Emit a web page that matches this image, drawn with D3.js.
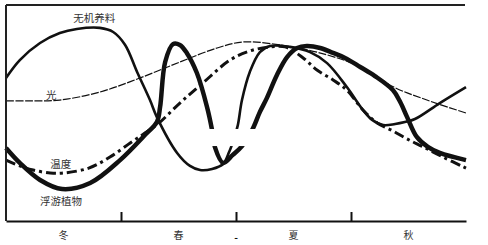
<!DOCTYPE html>
<html lang="zh">
<head>
  <meta charset="utf-8">
  <title>季节变化</title>
  <script src="https://d3js.org/d3.v7.min.js"></script>
  <style>
    body { margin: 0; background: #fff; }
    .axis path, .axis line { stroke: #111; stroke-width: 2; }
    text { font-family: "Noto Sans CJK SC", sans-serif; fill: #333; }
  </style>
</head>
<body>
<script>

// x: share of the year in percent (0 = start of winter), y: relative level in percent
var seasons = ["冬", "春", "夏", "秋"];
var seasonBounds = [25, 50, 75];

var nutrientPts = [[0,66.2],[3.0,74.5],[7.4,82.4],[11.7,87.0],[15.4,88.9],[20.4,89.4],[23.3,87.5],
  [25.9,81.5],[28.5,69.0],[31.3,56.0],[32.8,48.1],[37.2,31.5],[40.0,25.5],[42.2,23.6],[44.8,24.1],
  [47.2,26.4],[48.5,31.9],[49.6,38.4],[50.4,44.4],[51.3,56.0],[53.0,69.0],[55.2,78.2],[57.4,81.0],
  [61.7,80.6],[66.1,78.2],[69.8,73.1],[74.1,62.0],[77.6,51.4],[79.6,46.8],[82.0,44.4],[84.6,44.9],
  [86.7,45.8],[88.9,47.2],[94.3,54.6],[100,62.0]];

var planktonPts = [[0,33.8],[3.0,26.9],[7.4,19.0],[12.2,14.8],[18.3,17.6],[24.8,28.2],[30.2,39.8],
  [32.8,45.8],[33.5,52.8],[34.6,73.6],[36.3,81.9],[37.8,81.5],[39.3,77.8],[41.5,68.5],[43.7,52.8],
  [44.8,42.1],[45.4,34.3],[47.2,26.9],[49.3,30.6],[51.3,34.7],[53.5,42.1],[55.2,50.5],[56.7,56.9],
  [58.9,67.6],[61.1,75.9],[63.3,80.1],[65.4,81.0],[68.3,80.1],[71.1,77.8],[73.7,75.5],[77.0,71.3],
  [80.2,67.1],[84.1,60.6],[85.7,55.1],[87.2,48.1],[89.3,38.9],[91.7,34.3],[94.3,31.5],[100,28.2]];

var tempPts = [[0,28.2],[3.0,25.5],[5.9,23.6],[9.6,22.2],[12.4,22.2],[18.0,24.5],[22.6,29.6],
  [27.0,36.1],[30.2,40.7],[33.0,44.9],[37.8,54.6],[42.8,63.9],[48.7,74.5],[53.0,78.7],[57.4,80.6],
  [60.7,80.6],[64.6,75.5],[67.6,69.9],[71.1,65.3],[74.1,60.6],[77.6,51.4],[80.7,45.4],[84.1,41.7],
  [87.2,38.0],[90.7,34.3],[95.0,29.6],[100,24.5]];

var lightPts = [[0,55.6],[5.2,55.6],[11.7,56.0],[20.4,59.7],[29.1,66.2],[37.8,73.6],[45.9,80.1],
  [51.7,82.9],[61.1,81.0],[69.8,76.9],[77.2,71.3],[84.3,62.0],[91.5,56.0],[100,50.0]];

var width = 488, height = 245;
var margin = {top: 5, right: 22, bottom: 24, left: 6};

var x = d3.scaleLinear().domain([0, 100]).range([margin.left, width - margin.right]);
var y = d3.scaleLinear().domain([0, 100]).range([height - margin.bottom, margin.top]);

var svg = d3.select("body").append("svg")
  .attr("width", width)
  .attr("height", height);

var line = d3.line()
  .x(function(d) { return x(d[0]); })
  .y(function(d) { return y(d[1]); })
  .curve(d3.curveCatmullRom.alpha(0.5));

// light - thin broken line
svg.append("path").datum(lightPts)
  .attr("d", line).attr("fill", "none")
  .attr("stroke", "#111").attr("stroke-width", 1.2)
  .attr("stroke-dasharray", "8,1.5");

// temperature - dash dot
svg.append("path").datum(tempPts)
  .attr("d", line).attr("fill", "none")
  .attr("stroke", "#111").attr("stroke-width", 3)
  .attr("stroke-dasharray", "10,4,3,4");

// nutrients
svg.append("path").datum(nutrientPts)
  .attr("d", line).attr("fill", "none")
  .attr("stroke", "#111").attr("stroke-width", 2.6);

// phytoplankton - thick
svg.append("path").datum(planktonPts)
  .attr("d", line).attr("fill", "none")
  .attr("stroke", "#111").attr("stroke-width", 4.5)
  .attr("stroke-linejoin", "round");

// white patch over the lines in late spring (as in the scan)
svg.append("rect")
  .attr("x", x(43.3)).attr("y", y(42.6))
  .attr("width", x(54.8) - x(43.3)).attr("height", y(34.7) - y(42.6))
  .attr("fill", "#fff");

// frame: top and left
svg.append("line")
  .attr("x1", x(0)).attr("x2", x(100) - 1)
  .attr("y1", y(100)).attr("y2", y(100))
  .attr("stroke", "#222").attr("stroke-width", 2);
svg.append("line")
  .attr("x1", x(0)).attr("x2", x(0))
  .attr("y1", y(100)).attr("y2", y(0))
  .attr("stroke", "#222").attr("stroke-width", 2);

// bottom axis with upward ticks at season boundaries
var xAxis = d3.axisBottom(x)
  .tickValues(seasonBounds)
  .tickSizeInner(-9)
  .tickSizeOuter(0)
  .tickFormat("");

svg.append("g")
  .attr("class", "axis")
  .attr("transform", "translate(0," + y(0) + ")")
  .call(xAxis);

svg.selectAll(".season")
  .data(seasons)
  .enter().append("text")
  .attr("class", "season")
  .attr("x", function(d, i) { return x(i * 25 + 12.5); })
  .attr("y", y(0) + 18)
  .attr("text-anchor", "middle")
  .attr("font-size", "10px")
  .text(function(d) { return d; });

svg.append("text")
  .attr("x", x(50)).attr("y", y(0) + 20)
  .attr("text-anchor", "middle")
  .attr("font-size", "10px").attr("font-weight", "bold")
  .style("fill", "#111")
  .text("-");

// series labels
function label(txt, lx, ly) {
  svg.append("text")
    .attr("x", x(lx)).attr("y", y(ly))
    .attr("font-size", "10.5px")
    .text(txt);
}
label("无机养料", 14.6, 92.1);
label("光", 8.7, 56.5);
label("温度", 9.6, 24.5);
label("浮游植物", 7.4, 7.4);

</script>
</body>
</html>
